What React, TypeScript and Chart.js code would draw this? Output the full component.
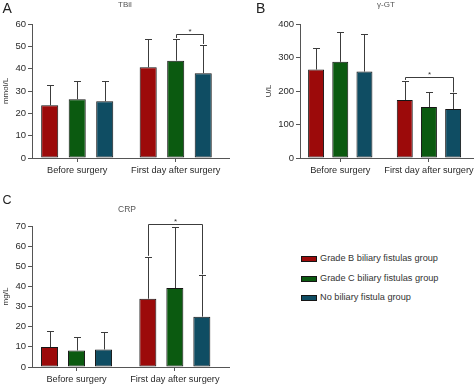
import React, { useEffect, useRef } from "react";
import { Chart, registerables } from "chart.js";

Chart.register(...registerables);

const FONT = '"Liberation Sans", Arial, Helvetica, sans-serif';

// ---- shared data ----
const groups = ["Before surgery", "First day after surgery"];
const seriesNames = [
  "Grade B biliary fistulas group",
  "Grade C biliary fistulas group",
  "No biliary fistula group",
];
const seriesColors = ["#9c0a0a", "#0b5a10", "#0f4d63"];

// ---- Panel A: TBil (mmol/L) ----
const tbilGradeB = [23.6, 40.6];
const tbilGradeC = [26.3, 43.6];
const tbilNone = [25.4, 38.0];
const tbilGradeBErr = [32.5, 53.1];
const tbilGradeCErr = [34.3, 53.3];
const tbilNoneErr = [34.5, 50.6];
const tbilTicks = { max: 60, step: 10 };

// ---- Panel B: γ-GT (U/L) ----
const ggtGradeB = [264, 173];
const ggtGradeC = [287, 152];
const ggtNone = [258, 146];
const ggtGradeBErr = [329, 230];
const ggtGradeCErr = [375, 197];
const ggtNoneErr = [370, 193];
const ggtTicks = { max: 400, step: 100 };

// ---- Panel C: CRP (mg/L) ----
const crpGradeB = [9.9, 33.9];
const crpGradeC = [8.2, 39.2];
const crpNone = [8.7, 25.0];
const crpGradeBErr = [18.0, 54.7];
const crpGradeCErr = [15.0, 69.6];
const crpNoneErr = [17.6, 45.5];
const crpTicks = { max: 70, step: 10 };

// significance brackets: group index, from series, to series, bracket level
const tbilSig = { group: 1, from: 1, to: 2, level: 55.3 };
const ggtSig = { group: 1, from: 0, to: 2, level: 241 };
const crpSig = { group: 1, from: 0, to: 2, level: 71.2 };

type Sig = { group: number; from: number; to: number; level: number };

type PanelProps = {
  left: number;
  top: number;
  width: number;
  height: number;
  yWidth: number;
  padTop: number;
  padRight: number;
  xHeight: number;
  xMin: number;
  xMax: number;
  yMax: number;
  yStep: number;
  yTitle: string;
  catPct: number;
  barPct: number;
  values: number[][];
  errors: number[][];
  sig: Sig;
};

function Panel(p: PanelProps) {
  const ref = useRef<HTMLCanvasElement | null>(null);
  useEffect(() => {
    if (!ref.current) return;
    const errorPlugin = {
      id: "errorBars",
      afterDatasetsDraw(chart: any) {
        const ctx = chart.ctx;
        const ys = chart.scales.y;
        ctx.save();
        ctx.strokeStyle = "#3c3c3c";
        ctx.lineWidth = 1;
        p.errors.forEach((arr, i) => {
          const meta = chart.getDatasetMeta(i);
          meta.data.forEach((el: any, j: number) => {
            const x = Math.round(el.x) + 0.5;
            const ey = Math.round(ys.getPixelForValue(arr[j])) + 0.5;
            ctx.beginPath();
            ctx.moveTo(x, el.y);
            ctx.lineTo(x, ey);
            ctx.moveTo(x - 3.5, ey);
            ctx.lineTo(x + 3.5, ey);
            ctx.stroke();
          });
        });
        const s = p.sig;
        const x1 = Math.round(chart.getDatasetMeta(s.from).data[s.group].x) + 0.5;
        const x2 = Math.round(chart.getDatasetMeta(s.to).data[s.group].x) + 0.5;
        const by = Math.round(ys.getPixelForValue(s.level)) + 0.5;
        const y1 = ys.getPixelForValue(p.errors[s.from][s.group]) - 1;
        const y2 = ys.getPixelForValue(p.errors[s.to][s.group]) - 1;
        ctx.beginPath();
        ctx.moveTo(x1, y1);
        ctx.lineTo(x1, by);
        ctx.lineTo(x2, by);
        ctx.lineTo(x2, y2);
        ctx.stroke();
        ctx.fillStyle = "#333";
        ctx.font = "8px " + FONT;
        ctx.textAlign = "center";
        ctx.textBaseline = "alphabetic";
        ctx.fillText("*", (x1 + x2) / 2, by - 1);
        ctx.restore();
      },
    };
    const chart = new Chart(ref.current, {
      type: "bar",
      data: {
        datasets: p.values.map((vals, i) => ({
          label: seriesNames[i],
          data: vals.map((v, j) => ({ x: j, y: v })),
          backgroundColor: seriesColors[i],
          borderColor: "#151515",
          borderWidth: 1,
          borderSkipped: false,
          categoryPercentage: p.catPct,
          barPercentage: p.barPct,
        })),
      },
      options: {
        responsive: false,
        animation: false,
        events: [],
        layout: { padding: { top: p.padTop, right: p.padRight, bottom: 0, left: 0 } },
        plugins: { legend: { display: false }, tooltip: { enabled: false }, title: { display: false } },
        scales: {
          x: {
            type: "linear",
            min: p.xMin,
            max: p.xMax,
            offset: false,
            grid: { display: true, drawOnChartArea: false, drawTicks: true, tickLength: 4, color: "#555", offset: false },
            border: { display: true, color: "#555", width: 1 },
            ticks: {
              autoSkip: false,
              maxRotation: 0,
              minRotation: 0,
              padding: 3,
              color: "#2a2a2a",
              font: { family: FONT, size: 9.2 },
              callback: (_v: any, i: number) => groups[i],
            },
            afterBuildTicks: (s: any) => {
              s.ticks = groups.map((_g, i) => ({ value: i }));
            },
            afterFit: (s: any) => {
              s.height = p.xHeight;
              s.paddingLeft = 0;
              s.paddingRight = 0;
            },
          },
          y: {
            type: "linear",
            min: 0,
            max: p.yMax,
            grid: { display: true, drawOnChartArea: false, drawTicks: true, tickLength: 4, color: "#555" },
            border: { display: true, color: "#555", width: 1 },
            ticks: { stepSize: p.yStep, padding: 2, color: "#2a2a2a", font: { family: FONT, size: 9.5 } },
            title: {
              display: true,
              text: p.yTitle,
              color: "#333",
              font: { family: FONT, size: 8 },
              padding: { top: 1, bottom: 0 },
            },
            afterFit: (s: any) => {
              s.width = p.yWidth;
              s.paddingTop = 0;
              s.paddingBottom = 0;
            },
          },
        },
      },
      plugins: [errorPlugin],
    } as any);
    return () => chart.destroy();
  }, []);
  return (
    <canvas
      ref={ref}
      width={p.width}
      height={p.height}
      style={{ position: "absolute", left: p.left, top: p.top, width: p.width, height: p.height }}
    />
  );
}

function Txt(props: { x: number; y: number; size: number; color?: string; center?: boolean; children: React.ReactNode }) {
  const { x, y, size, color = "#333", center, children } = props;
  return (
    <div
      style={{
        position: "absolute",
        left: x,
        top: y - 0.8465 * size,
        fontSize: size,
        lineHeight: size + "px",
        fontFamily: FONT,
        color,
        whiteSpace: "nowrap",
        transform: center ? "translateX(-50%)" : undefined,
      }}
    >
      {children}
    </div>
  );
}

export default function App() {
  const legendY = [262, 281.5, 301];
  return (
    <div style={{ position: "absolute", left: 0, top: 0, width: 474, height: 384, overflow: "hidden", background: "#fff" }}>
      <Panel
        left={0} top={0} width={240} height={180}
        yWidth={32} padTop={24} padRight={11} xHeight={22}
        xMin={-0.459} xMax={1.541}
        yMax={tbilTicks.max} yStep={tbilTicks.step} yTitle="mmol/L"
        catPct={0.838} barPct={0.62}
        values={[tbilGradeB, tbilGradeC, tbilNone]}
        errors={[tbilGradeBErr, tbilGradeCErr, tbilNoneErr]}
        sig={tbilSig}
      />
      <Panel
        left={263} top={0} width={211} height={180}
        yWidth={37} padTop={24} padRight={0} xHeight={22}
        xMin={-0.454} xMax={1.508}
        yMax={ggtTicks.max} yStep={ggtTicks.step} yTitle="U/L"
        catPct={0.818} barPct={0.66}
        values={[ggtGradeB, ggtGradeC, ggtNone]}
        errors={[ggtGradeBErr, ggtGradeCErr, ggtNoneErr]}
        sig={ggtSig}
      />
      <Panel
        left={0} top={180} width={240} height={204}
        yWidth={32} padTop={46} padRight={11} xHeight={17}
        xMin={-0.453} xMax={1.551}
        yMax={crpTicks.max} yStep={crpTicks.step} yTitle="mg/L"
        catPct={0.824} barPct={0.63}
        values={[crpGradeB, crpGradeC, crpNone]}
        errors={[crpGradeBErr, crpGradeCErr, crpNoneErr]}
        sig={crpSig}
      />
      <Txt x={2.5} y={13} size={14} color="#222">A</Txt>
      <Txt x={256} y={13} size={14} color="#222">B</Txt>
      <Txt x={2.5} y={205} size={12.5} color="#222">C</Txt>
      <Txt x={125} y={7.5} size={8} color="#555" center>TBil</Txt>
      <Txt x={386} y={8} size={8} color="#555" center>γ-GT</Txt>
      <Txt x={127} y={212} size={8.5} color="#555" center>CRP</Txt>
      {seriesNames.map((name, i) => (
        <React.Fragment key={name}>
          <div
            style={{
              position: "absolute",
              left: 301,
              top: legendY[i] - 6,
              width: 14,
              height: 4,
              background: seriesColors[i],
              border: "1px solid #151515",
            }}
          />
          <Txt x={320} y={legendY[i]} size={9.2} color="#333">{name}</Txt>
        </React.Fragment>
      ))}
    </div>
  );
}
